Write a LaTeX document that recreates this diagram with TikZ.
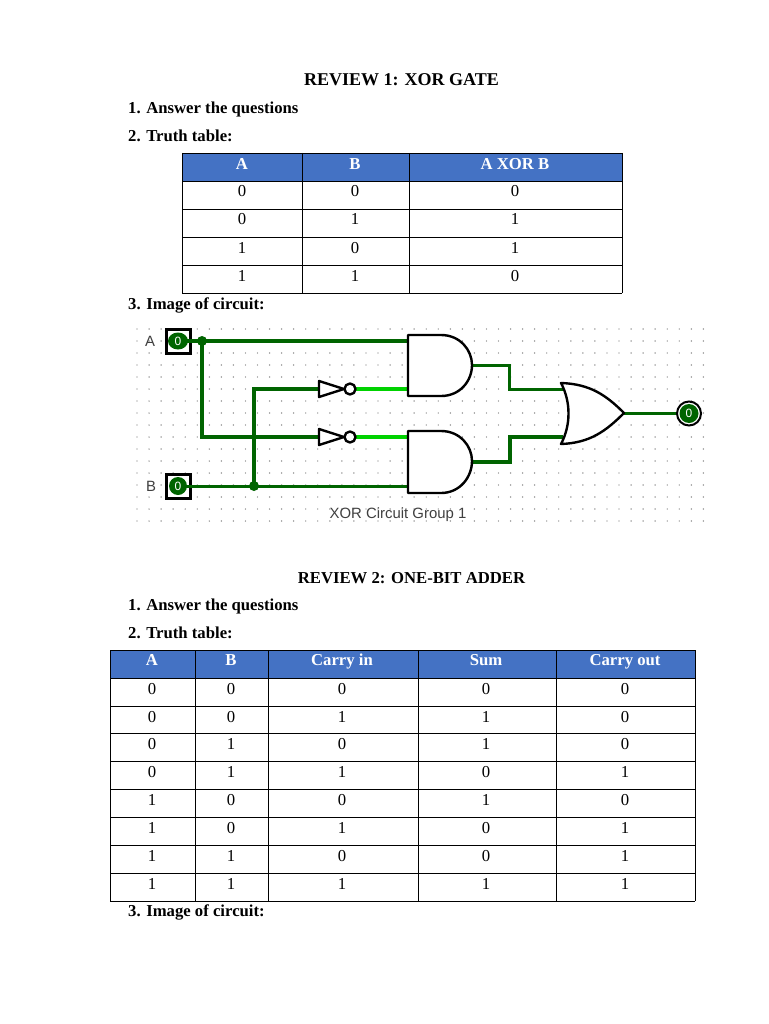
\documentclass[tikz,border=0pt]{standalone}
\usepackage{fontspec}
\usetikzlibrary{shapes.geometric}
\setmainfont{Liberation Serif}
\setsansfont{Liberation Sans}
\definecolor{headblue}{HTML}{4472C4}
\definecolor{wiredark}{HTML}{006400}
\definecolor{wirelight}{HTML}{00D200}
\tikzset{
  txt/.style={inner sep=0pt, anchor=base, font=\fontsize{16.7}{18}\selectfont},
  head/.style={txt, font=\fontsize{16.7}{18}\selectfont\bfseries},
  big head/.style={txt, font=\fontsize{18}{20}\selectfont\bfseries},
  white head/.style={head, text=white},
  left head/.style={head, anchor=base west},
  wire/.style={wiredark, line width=3.4pt},
  thin wire/.style={wiredark, line width=3pt},
  on wire/.style={wirelight, line width=3.6pt},
  gate/.style={black, line width=2.4pt, fill=white, line join=round},
  pin/.style={draw, black, line width=3pt, fill=white, minimum size=24pt, inner sep=0pt},
  logisim/.style={inner sep=0pt, font=\sffamily\fontsize{14.9}{16}\selectfont, text=black!75},
}
\begin{document}
\begin{tikzpicture}[x=1pt, y=-1pt]
        \useasboundingbox (0,0) rectangle (768,1024);
        \fill[white] (0,0) rectangle (768,1024);
        % review 1
        \node[big head] (title1) at (401.5,86) {REVIEW 1: XOR GATE};
        \node[left head] (ans1) at (128,114) {1. Answer the questions};
        \node[left head] (truth1) at (128,142) {2. Truth table:};
        \node[left head] (img1) at (128,309) {3. Image of circuit:};
        % table 1
        \fill[headblue] (182,153) rectangle (622,181);
        \foreach \y in {153,181,209,237,265,293}
            \draw[black, line width=0.8pt] (182,\y) -- (622,\y);
        \foreach \x in {182,302,409,622}
            \draw[black, line width=0.8pt] (\x,153) -- (\x,293);
        \node[white head] (ta) at (242,170) {A};
        \node[white head] (tb) at (355,170) {B};
        \node[white head] (tx) at (515,170) {A XOR B};
        \foreach \y/\a/\b/\c in {197/0/0/0,225/0/1/1,253/1/0/1,281/1/1/0} {
            \node[txt] (ta\y) at (242,\y) {\a};
            \node[txt] (tb\y) at (355,\y) {\b};
            \node[txt] (tx\y) at (515,\y) {\c};
        }
        % grid of the circuit
        \foreach \x in {0,...,47}
            \foreach \y in {0,...,16}
                \fill[black!55] (137+\x*12.05,329+\y*12) circle (0.7pt);
        % circuit
        \node[pin] (pinA) at (178,341) {};
        \node[pin] (pinB) at (178,486) {};
        \node[logisim] (labA) at (150,341) {A};
        \node[logisim] (labB) at (151,486) {B};
        \node[logisim] (cap) at (398,515) {XOR Circuit Group 1};
        \coordinate (jA) at (202,341);
        \coordinate (jAd) at (202,437);
        \coordinate (jB) at (254,486);
        \coordinate (jBu) at (254,389);
        \coordinate (not1in) at (319,389);
        \coordinate (not2in) at (319,437);
        \coordinate (not1out) at (356,389);
        \coordinate (not2out) at (356,437);
        \coordinate (and1a) at (408,341);
        \coordinate (and1b) at (408,389);
        \coordinate (and2a) at (408,437);
        \coordinate (and2b) at (408,486);
        \coordinate (and1out) at (472,365);
        \coordinate (and2out) at (472,462);
        \coordinate (or1a) at (563,389);
        \coordinate (or1b) at (563,437);
        \coordinate (orout) at (624,413.5);
        \coordinate (lamp) at (689,413.5);
        \draw[wire] (pinA.center) -- (and1a);
        \draw[wire] (jA) -- (jAd) -- (not2in);
        \draw[thin wire] (pinB.center) -- (and2b);
        \draw[wire] (jB) -- (jBu) -- (not1in);
        \draw[on wire] (not1out) -- (and1b);
        \draw[on wire] (not2out) -- (and2a);
        \draw[thin wire] (and1out) -- (509.5,365) -- (509.5,389) -- (or1a);
        \draw[wire] (and2out) -- (510,462) -- (510,437) -- (or1b);
        \draw[wire] (orout) -- (lamp);
        \fill[wiredark] (jA) circle (5pt);
        \fill[wiredark] (jB) circle (5pt);
        % gates
        \draw[gate] (319,381) -- (344,389) -- (319,397) -- cycle;
        \draw[gate] (350,389) circle (5.5pt);
        \draw[gate] (319,429) -- (344,437) -- (319,445) -- cycle;
        \draw[gate] (350,437) circle (5.5pt);
        \draw[gate] (408,335) -- (441,335) .. controls (460,335) and (472,350) .. (472,365)
            .. controls (472,381) and (460,396) .. (441,396) -- (408,396) -- cycle;
        \draw[gate] (408,431) -- (441,431) .. controls (460,431) and (472,446) .. (472,461)
            .. controls (472,477) and (460,493) .. (441,493) -- (408,493) -- cycle;
        \draw[gate] (561,383) .. controls (590,384) and (606,395) .. (624,413)
            .. controls (606,431) and (590,443) .. (561,444)
            .. controls (571,425) and (571,402) .. (561,383) -- cycle;
        % pins and lamp
        \node[fill=wiredark, ellipse, minimum width=20pt, minimum height=17pt, inner sep=0pt,
              text=white, font=\sffamily\fontsize{12}{12}\selectfont] (valA) at (178,341) {0};
        \node[fill=wiredark, circle, minimum size=18pt, inner sep=0pt,
              text=white, font=\sffamily\fontsize{12}{12}\selectfont] (valB) at (178,486) {0};
        \node[draw=black, line width=2pt, fill=white, circle, minimum size=24pt, inner sep=0pt] (lampring) at (lamp) {};
        \node[fill=wiredark, circle, minimum size=19pt, inner sep=0pt,
              text=white, font=\sffamily\fontsize{12}{12}\selectfont] (lampval) at (lamp) {0};
        % review 2
        \node[head] (title2) at (411.5,583.5) {REVIEW 2: ONE-BIT ADDER};
        \node[left head] (ans2) at (128,610.5) {1. Answer the questions};
        \node[left head] (truth2) at (128,638.5) {2. Truth table:};
        \node[left head] (img2) at (128,916) {3. Image of circuit:};
        % table 2
        \fill[headblue] (110,650) rectangle (695,678);
        \foreach \y in {650,678,706,733.5,761.5,789.5,817.5,845.5,873.5,901}
            \draw[black, line width=0.8pt] (110,\y) -- (695,\y);
        \foreach \x in {110,195,268,418,556,695}
            \draw[black, line width=0.8pt] (\x,650) -- (\x,901);
        \node[white head] (ha) at (152,665.5) {A};
        \node[white head] (hb) at (231,665.5) {B};
        \node[white head] (hc) at (342,665.5) {Carry in};
        \node[white head] (hs) at (486,665.5) {Sum};
        \node[white head] (ho) at (625,665.5) {Carry out};
        \foreach \y/\a/\b/\c/\s/\o in {694/0/0/0/0/0,722/0/0/1/1/0,749/0/1/0/1/0,777/0/1/1/0/1,
                                       805/1/0/0/1/0,833/1/0/1/0/1,861/1/1/0/0/1,889/1/1/1/1/1} {
            \node[txt] (ha\y) at (152,\y) {\a};
            \node[txt] (hb\y) at (231,\y) {\b};
            \node[txt] (hc\y) at (342,\y) {\c};
            \node[txt] (hs\y) at (486,\y) {\s};
            \node[txt] (ho\y) at (625,\y) {\o};
        }
\end{tikzpicture}
\end{document}
